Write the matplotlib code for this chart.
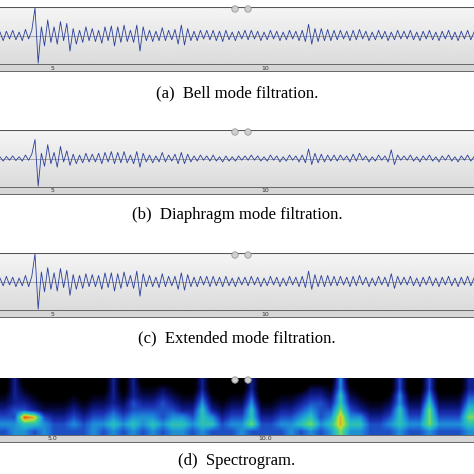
import numpy as np
import matplotlib
matplotlib.use("Agg")
import matplotlib.pyplot as plt
from matplotlib.colors import LinearSegmentedColormap

T0, T1 = 3.78, 14.9
tick_vals = [5, 10]
tick_labels_wave = ["5", "10"]
tick_labels_spec = ["5.0", "10.0"]
captions = ["(a)  Bell mode filtration.", "(b)  Diaphragm mode filtration.",
            "(c)  Extended mode filtration.", "(d)  Spectrogram."]

bell = [0.2,-0.3,0.25,-0.2,0.3,-0.25,0.2,-0.3,0.35,-0.2,0.3,
        1.6,-1.6,0.5,-0.6,0.9,-0.4,0.5,-0.5,0.8,-0.3,0.7,-0.9,
        0.4,-0.5,0.3,-0.4,0.5,-0.3,0.4,-0.35,0.3,-0.45,0.5,-0.3,0.55,-0.6,0.5,-0.4,0.6,-0.35,
        0.3,-0.4,0.6,-0.9,0.5,-0.3,0.3,-0.35,0.25,-0.3,0.45,-0.3,0.3,-0.25,0.35,
        -0.5,0.6,-0.55,0.4,-0.3,0.25,-0.3,0.3,-0.2,0.3,-0.25,0.3,-0.3,0.25,-0.35,0.3,-0.25,0.2,-0.3,0.25,
        -0.2,0.3,-0.25,0.3,-0.2,0.25,-0.3,0.2,-0.25,0.3,-0.2,0.25,-0.3,0.2,-0.25,0.3,-0.2,0.25,-0.3,0.3,-0.35,0.65,-0.5,0.4,-0.35,
        0.4,-0.3,0.35,-0.3,0.3,-0.25,0.3,-0.2,0.25,-0.3,0.3,-0.25,0.35,-0.2,0.25,-0.3,0.2,-0.25,0.3,-0.2,0.25,-0.3,0.2,-0.25,0.3,
        -0.2,0.25,-0.2,0.3,-0.25,0.2,-0.3,0.25,-0.2,0.3,-0.25,0.2,-0.3,0.25,-0.2,0.3,-0.25,0.2,-0.3,0.25,-0.2,0.3,-0.25,0.2]
diaphragm = [0.1,-0.15,0.12,-0.1,0.15,-0.12,0.1,-0.15,0.2,-0.1,0.25,
        1.1,-1.6,0.3,-0.45,0.8,-0.3,0.35,-0.5,0.7,-0.2,0.45,-0.4,
        0.25,-0.3,0.2,-0.25,0.3,-0.2,0.25,-0.2,0.3,-0.3,0.35,-0.2,0.4,-0.3,0.35,-0.25,0.4,-0.25,
        0.2,-0.3,0.4,-0.5,0.3,-0.2,0.2,-0.25,0.15,-0.2,0.35,-0.2,0.2,-0.15,0.25,
        -0.3,0.35,-0.3,0.25,-0.2,0.15,-0.15,0.2,-0.1,0.15,-0.15,0.2,-0.15,0.1,-0.2,0.15,-0.15,0.1,-0.15,0.15,
        -0.1,0.15,-0.1,0.2,-0.1,0.15,-0.15,0.1,-0.15,0.2,-0.1,0.15,-0.2,0.1,-0.15,0.2,-0.1,0.15,-0.2,0.2,-0.25,0.55,-0.35,0.3,-0.25,
        0.25,-0.2,0.2,-0.15,0.2,-0.15,0.2,-0.1,0.15,-0.2,0.25,-0.15,0.3,-0.1,0.15,-0.2,0.1,-0.15,0.2,-0.1,0.15,-0.2,0.5,-0.35,0.2,
        -0.1,0.15,-0.1,0.2,-0.15,0.1,-0.2,0.15,-0.1,0.2,-0.15,0.1,-0.2,0.15,-0.1,0.2,-0.15,0.1,-0.2,0.15,-0.1,0.2,-0.15,0.1]
extended = [0.2,-0.25,0.3,-0.2,0.25,-0.3,0.2,-0.25,0.35,-0.3,0.3,
        1.6,-1.6,0.55,-0.6,0.8,-0.45,0.5,-0.55,0.75,-0.35,0.65,-0.8,
        0.4,-0.45,0.35,-0.4,0.45,-0.3,0.4,-0.3,0.35,-0.45,0.5,-0.35,0.5,-0.55,0.45,-0.4,0.55,-0.3,
        0.35,-0.4,0.6,-0.85,0.45,-0.3,0.35,-0.3,0.25,-0.35,0.45,-0.3,0.3,-0.25,0.3,
        -0.45,0.5,-0.5,0.4,-0.3,0.25,-0.3,0.3,-0.2,0.3,-0.3,0.3,-0.25,0.25,-0.3,0.3,-0.25,0.2,-0.3,0.25,
        -0.2,0.25,-0.25,0.3,-0.2,0.25,-0.3,0.2,-0.25,0.3,-0.2,0.25,-0.3,0.2,-0.25,0.3,-0.2,0.25,-0.3,0.3,-0.35,0.6,-0.45,0.4,-0.3,
        0.35,-0.3,0.35,-0.25,0.3,-0.25,0.3,-0.2,0.25,-0.3,0.3,-0.25,0.35,-0.2,0.25,-0.3,0.2,-0.25,0.3,-0.2,0.25,-0.3,0.45,-0.4,0.3,
        -0.2,0.25,-0.2,0.3,-0.25,0.2,-0.3,0.25,-0.2,0.3,-0.25,0.2,-0.3,0.25,-0.2,0.3,-0.25,0.2,-0.3,0.25,-0.2,0.3,-0.25,0.2]

spec_rows = [
    "03000000"+"00030300"+"00003000"+"03000000"+"00500000"+"40040003",
    "03100000"+"00030311"+"21003000"+"03000002"+"21510000"+"40040003",
    "13210001"+"01131322"+"32114101"+"14001123"+"32621001"+"51151114",
    "23321112"+"12232433"+"43225212"+"25112234"+"43632112"+"52262225",
    "34432223"+"23343444"+"44336323"+"36223345"+"44743223"+"63373336",
    "44984334"+"34454555"+"45546534"+"46334456"+"45855334"+"64474447",
    "55665445"+"45565656"+"56656645"+"57445567"+"56866445"+"65575556",
    "45545444"+"45454545"+"45545444"+"54444545"+"45755444"+"54454445",
]
spec = np.array([[int(c) for c in r] for r in spec_rows], dtype=float)

W = H = 474
fig = plt.figure(figsize=(4.74, 4.74), dpi=100)

def px(x0, y0, w, h):
    return [x0 / W, 1 - (y0 + h) / H, w / W, h / H]

def ruler(top, labels):
    ax = fig.add_axes(px(0, top, 474, 8))
    ax.set_xlim(T0, T1); ax.set_ylim(0, 1)
    ax.set_facecolor("#d6d6d6")
    for s in ax.spines.values(): s.set_visible(False)
    ax.axhline(0.05, color="#555555", lw=1.2)
    ax.axhline(0.97, color="#555555", lw=1.2)
    ax.set_xticks([]); ax.set_yticks([])
    for v, l in zip(tick_vals, labels):
        ax.text(v, 0.5, l, fontsize=4.5, ha="center", va="center", color="#333333")

def buttons(top):
    for x in (235, 248):
        fig.patches.append(plt.Circle((x / W, 1 - (top + 2) / H), 3.2 / W,
                                      transform=fig.transFigure, fc="#cfcfcf", ec="#999999", lw=0.6))

tops = [7, 130, 253]
caps_y = [93, 215, 338]
for top, data, cy, cap in zip(tops, [bell, diaphragm, extended], caps_y, captions[:3]):
    ax = fig.add_axes(px(0, top, 474, 57))
    grad = np.linspace(0.96, 0.86, 50)[:, None]
    ax.imshow(grad, extent=[T0, T1, -1.65, 1.65], aspect="auto", cmap="gray", vmin=0, vmax=1, zorder=0)
    t = np.linspace(T0, T1, len(data))
    ax.axhline(0, color="#999999", lw=0.6, zorder=1)
    ax.plot(t, data, color="#2a3f9a", lw=0.6, zorder=2)
    ax.set_xlim(T0, T1); ax.set_ylim(-1.65, 1.65)
    ax.set_xticks([]); ax.set_yticks([])
    for s in ax.spines.values(): s.set_visible(False)
    ax.axhline(1.65, color="#555555", lw=1.5)
    ruler(top + 57, tick_labels_wave)
    buttons(top)
    fig.text(0.5, 1 - cy / H, cap, ha="center", va="center", fontsize=12,
             family="Liberation Serif")

cmap = LinearSegmentedColormap.from_list("sp", ["#000000", "#05052a", "#0a1470", "#1a30b0",
                                                "#1e70d8", "#20b0d0", "#40d090", "#c0e030", "#f08020", "#e01010"])
ax = fig.add_axes(px(0, 378, 474, 57))
ax.imshow(spec, extent=[T0, T1, 0, 1], aspect="auto", cmap=cmap, vmin=0.5, vmax=9.5,
          interpolation="bilinear")
ax.set_xlim(T0, T1); ax.set_ylim(0, 1)
ax.set_xticks([]); ax.set_yticks([])
for s in ax.spines.values(): s.set_visible(False)
ruler(435, tick_labels_spec)
buttons(378)
fig.text(0.5, 1 - 461 / H, captions[3], ha="center", va="center", fontsize=12, family="Liberation Serif")

fig.savefig("out.png", dpi=100)
